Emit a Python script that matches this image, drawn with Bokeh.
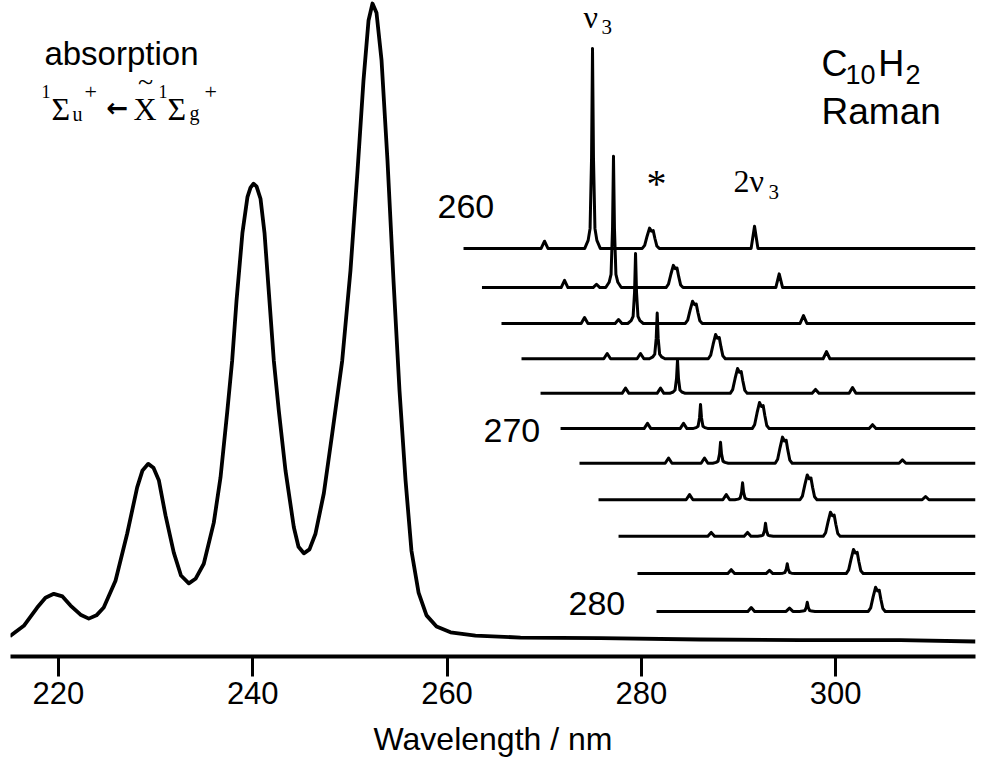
from bokeh.plotting import figure
from bokeh.models import Range1d, FixedTicker
from bokeh.core.properties import value
from bokeh.embed import file_html
from bokeh.resources import INLINE

# ---------------------------------------------------------------
# Absorption spectrum of C10H2 (relative absorbance, peak = 1)
# ---------------------------------------------------------------
abs_wavelength = [
    214.99, 216.43, 217.81, 218.66, 219.52, 220.41, 221.24, 222.27, 223.12, 223.91,
    224.66, 225.87, 227.07, 228.10, 228.65, 229.24, 229.78, 230.33, 231.02, 231.87,
    232.61, 233.42, 234.11, 234.96, 235.99, 236.68, 237.37, 237.88, 238.33, 238.94,
    239.46, 239.77, 240.08, 240.39, 240.80, 241.21, 241.72, 242.17, 242.68, 243.37,
    244.23, 244.71, 245.26, 245.84, 246.46, 247.32, 248.18, 249.21, 250.06, 250.79,
    251.40, 251.92, 252.33, 252.74, 253.26, 253.87, 254.49, 255.11, 255.73, 256.34,
    257.07, 257.89, 258.92, 260.36, 262.93, 267.57, 275.80, 286.10, 296.40, 306.69,
    314.41,
]
abs_intensity = [
    0.031, 0.047, 0.075, 0.090, 0.096, 0.092, 0.078, 0.064, 0.058, 0.063,
    0.075, 0.116, 0.188, 0.259, 0.285, 0.295, 0.289, 0.270, 0.216, 0.159,
    0.124, 0.112, 0.119, 0.142, 0.205, 0.274, 0.374, 0.453, 0.545, 0.649,
    0.704, 0.718, 0.724, 0.720, 0.701, 0.649, 0.545, 0.453, 0.377, 0.285,
    0.198, 0.168, 0.158, 0.164, 0.188, 0.250, 0.341, 0.453, 0.591, 0.744,
    0.882, 0.974, 1.000, 0.986, 0.913, 0.760, 0.576, 0.407, 0.270, 0.162,
    0.098, 0.063, 0.046, 0.037, 0.032, 0.029, 0.028, 0.026, 0.025, 0.025,
    0.023,
]

# ---------------------------------------------------------------
# Resonance Raman spectra, one trace per excitation wavelength
# ---------------------------------------------------------------
raman_excitation = [260, 262, 264, 266, 268, 270, 272, 274, 276, 278, 280]
raman_start = [261.70, 263.60, 265.61, 267.67, 269.63, 271.69,
               273.64, 275.60, 277.66, 279.61, 281.57]
raman_end = 314.41
# vertical offset of each trace (same units as the absorbance)
raman_offset = [0.625, 0.565, 0.510, 0.456, 0.403, 0.349,
                0.296, 0.240, 0.184, 0.127, 0.069]

# (wavelength nm, band height) of the bands in each trace
band_low = [(270.04, 0.011), (272.10, 0.011), (274.16, 0.009), (276.49, 0.008),
            (278.38, 0.008), (280.64, 0.008), (282.81, 0.008), (284.97, 0.008),
            (287.20, 0.006), (289.26, 0.006), (291.32, 0.006)]
band_pre = [None, (275.39, 0.005), (277.66, 0.006), (279.92, 0.008),
            (281.98, 0.008), (284.35, 0.008), (286.51, 0.008), (288.75, 0.008),
            (290.94, 0.006), (293.20, 0.005), (295.26, 0.005)]
band_nu3 = [(274.98, 0.306), (277.14, 0.201), (279.41, 0.107), (281.64, 0.070),
            (283.73, 0.051), (286.10, 0.037), (288.16, 0.032), (290.43, 0.026),
            (292.79, 0.020), (295.03, 0.015), (297.09, 0.014)]
band_star = [(280.85, 0.031), (283.30, 0.034), (285.28, 0.034), (287.65, 0.037),
             (289.91, 0.038), (292.17, 0.040), (294.54, 0.040), (297.09, 0.038),
             (299.48, 0.037), (301.85, 0.037), (304.12, 0.037)]
band_extra = [None, None, None, None, (297.94, 0.006), None,
              None, None, None, None, None]
band_2nu3 = [(291.66, 0.034), (294.20, 0.021), (296.70, 0.012), (299.07, 0.011),
             (301.75, 0.009), (303.81, 0.006), (306.89, 0.005), (309.27, 0.005),
             None, None, None]

# band outlines: (offset from centre in nm, fraction of band height)
SMALL = [(-0.35, 0.0), (0.0, 1.0), (0.35, 0.0)]
SPIKE = [(-0.80, 0.0), (-0.45, 0.04), (-0.25, 0.10), (-0.10, 0.45), (0.0, 1.0),
         (0.10, 0.45), (0.25, 0.10), (0.45, 0.04), (0.80, 0.0)]
DOUBLET = [(-0.75, 0.0), (-0.50, 0.15), (-0.25, 0.60), (0.0, 1.0), (0.20, 0.85),
           (0.38, 0.88), (0.55, 0.50), (0.75, 0.12), (1.00, 0.0)]


def raman_trace(i):
    bands = []
    for shape, table in ((SMALL, band_low), (SMALL, band_pre), (SPIKE, band_nu3),
                         (DOUBLET, band_star), (SMALL, band_extra), (SMALL, band_2nu3)):
        if table[i] is not None:
            bands.append((table[i][0], table[i][1], shape))
    bands.sort(key=lambda b: b[0])
    base = raman_offset[i]
    xs, ys = [raman_start[i]], [base]
    for centre, height, shape in bands:
        for dx, frac in shape:
            xs.append(centre + dx)
            ys.append(base + frac * height)
    xs.append(raman_end)
    ys.append(base)
    return xs, ys


p = figure(
    frame_width=965, frame_height=656,
    min_border_left=10, min_border_right=10, min_border_top=0, min_border_bottom=103,
    x_range=Range1d(215.06, 314.41), y_range=Range1d(0, 1.0046),
    y_axis_location=None, toolbar_location=None, output_backend="svg",
    background_fill_color="white", border_fill_color="white",
)
p.outline_line_color = None
p.grid.visible = False

p.line(abs_wavelength, abs_intensity, line_color="black", line_width=3.8,
       line_join="round")

for i in range(len(raman_excitation)):
    xs, ys = raman_trace(i)
    p.line(xs, ys, line_color="black", line_width=3.0, line_join="round")

# x axis
ax = p.xaxis[0]
ax.ticker = FixedTicker(ticks=[220, 240, 260, 280, 300])
ax.axis_label = "Wavelength / nm"
ax.axis_label_text_font = "Liberation Sans"
ax.axis_label_text_font_size = "32px"
ax.axis_label_text_font_style = "normal"
ax.axis_label_text_color = "black"
ax.axis_label_standoff = 14
ax.major_label_text_font = "Liberation Sans"
ax.major_label_text_font_size = "31px"
ax.major_label_text_color = "black"
ax.major_label_standoff = 5
ax.axis_line_width = 4
ax.axis_line_color = "black"
ax.major_tick_line_width = 3
ax.major_tick_line_color = "black"
ax.major_tick_out = 20
ax.major_tick_in = 0
ax.minor_tick_out = 0
ax.minor_tick_in = 0

LIFT = 0.018  # raise text so that it sits on its intended baseline


def label(x, y, txt, size, font="Liberation Sans", align="left", style="normal"):
    p.text(x=[x], y=[y + LIFT], text=[txt], text_font=value(font), text_font_size=size,
           text_align=align, text_baseline="alphabetic", text_color="black",
           text_font_style=style)


SERIF = "Liberation Serif"

# absorption transition
label(218.55, 0.905, "absorption", "33px")
label(218.25, 0.848, "1", "18px", SERIF)
label(219.28, 0.821, "\u03a3", "32px", SERIF)
label(221.44, 0.813, "u", "20px", SERIF)
label(222.68, 0.847, "+", "22px", SERIF)
label(224.94, 0.822, "\u2190", "26px", "DejaVu Sans", style="bold")
label(227.72, 0.821, "X", "32px", SERIF)
label(228.96, 0.862, "~", "28px", SERIF, align="center")
label(230.30, 0.848, "1", "18px", SERIF)
label(231.22, 0.821, "\u03a3", "32px", SERIF)
label(233.49, 0.815, "g", "20px", SERIF)
label(235.03, 0.847, "+", "22px", SERIF)

# molecule / technique
label(298.56, 0.890, "C", "36px")
label(301.03, 0.874, "10", "27px")
label(304.40, 0.890, "H", "36px")
label(307.20, 0.874, "2", "27px")
label(298.56, 0.816, "Raman", "37px")

# band assignments
label(274.05, 0.962, "\u03bd", "32px", SERIF)
label(275.91, 0.946, "3", "21px", SERIF)
label(281.57, 0.706, "*", "40px", SERIF, align="center")
label(289.50, 0.710, "2\u03bd", "32px", SERIF)
label(293.10, 0.694, "3", "21px", SERIF)

# excitation wavelengths
label(259.02, 0.671, str(raman_excitation[0]), "34px")
label(263.76, 0.328, str(raman_excitation[5]), "34px")
label(272.51, 0.0628, str(raman_excitation[10]), "34px")

open("out.html", "w").write(file_html(p, INLINE))
